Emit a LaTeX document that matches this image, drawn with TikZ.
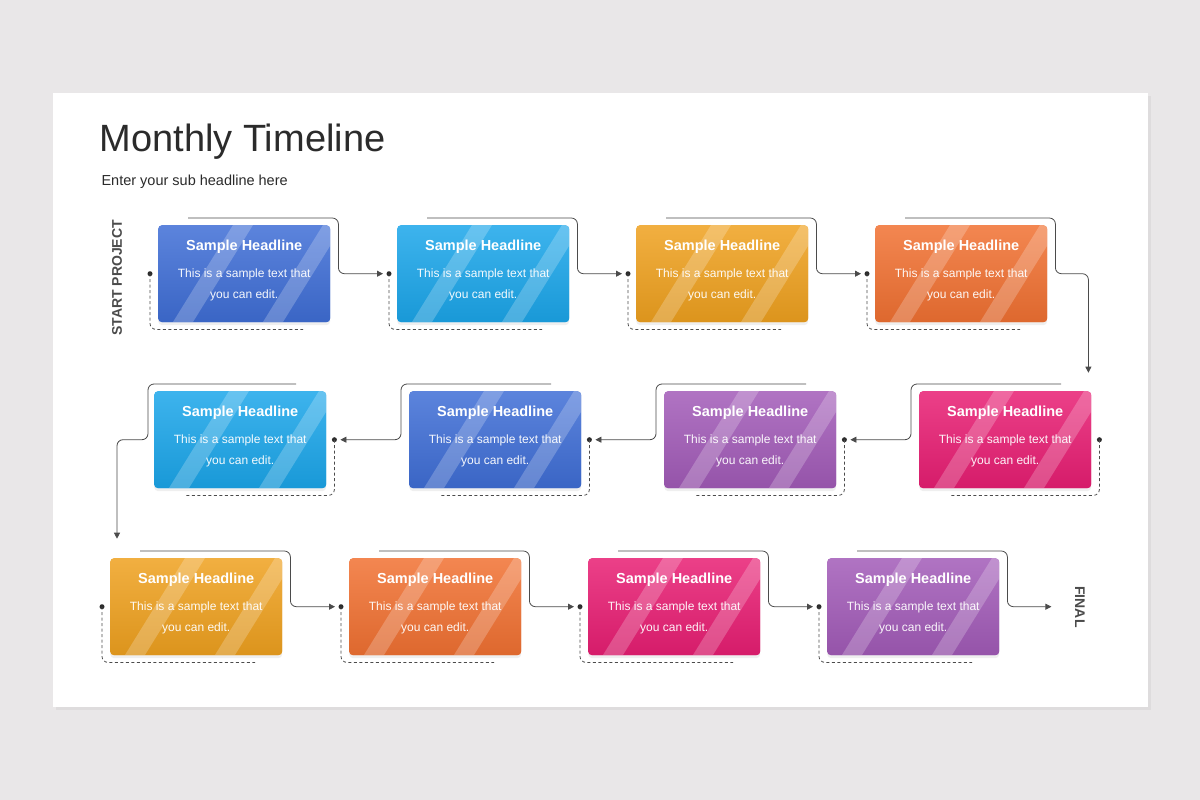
\documentclass[tikz,border=0pt]{standalone}
\usepackage{fontspec}
\setmainfont{Liberation Sans}
\usetikzlibrary{calc,shadows,arrows.meta}
\definecolor{cblue}{HTML}{3F6ED6}
\definecolor{ccyan}{HTML}{1BA6EA}
\definecolor{camber}{HTML}{EFA11F}
\definecolor{corange}{HTML}{F17132}
\definecolor{cpink}{HTML}{E81E73}
\definecolor{cpurple}{HTML}{A25BB8}
\definecolor{ink}{HTML}{2B2B2B}
\definecolor{bggray}{HTML}{E9E7E8}
\tikzset{
  tbox/.style={rounded corners=4pt,minimum width=172pt,minimum height=97pt,inner sep=0pt,
     drop shadow={opacity=0.12,shadow xshift=0pt,shadow yshift=-3pt}},
  conn/.style={draw=ink!85,line width=0.8pt,rounded corners=6pt,-{Triangle[length=6pt,width=6pt]}},
  dashln/.style={draw=ink!85,line width=0.8pt,dash pattern=on 3pt off 2.5pt,rounded corners=6pt},
  dotn/.style={circle,fill=ink,inner sep=0pt,minimum size=5pt},
}
\newcommand\tlbox[4]{% name, x0, y0 (top), color
  \node[tbox,fill=#4,top color=#4!85!white,bottom color=#4!92!black,anchor=north west] (#1) at (#2,#3) {};
  \begin{scope}
    \clip[rounded corners=4pt] (#2,#3) rectangle ++(172,97);
    \fill[white,opacity=0.22] (#2+15,#3+97) -- (#2+35,#3+97) -- (#2+95,#3) -- (#2+75,#3) -- cycle;
    \fill[white,opacity=0.22] (#2+105,#3+97) -- (#2+125,#3+97) -- (#2+185,#3) -- (#2+165,#3) -- cycle;
  \end{scope}
  \node[white,font=\bfseries\fontsize{14.5}{16}\selectfont] at ($(#1.north)+(0,22)$) {Sample Headline};
  \node[white,opacity=0.95,align=center,font=\fontsize{12}{21}\selectfont] at ($(#1.north)+(0,60)$) {This is a sample text that\\you can edit.};
}
\begin{document}
\begin{tikzpicture}[x=1pt,y=-1pt]
\fill[bggray] (0,0) rectangle (1200,800);
\useasboundingbox (0,0) rectangle (1200,800);
\fill[white,drop shadow={opacity=0.1}] (53,93) rectangle (1148,707);
\node[anchor=west,text=ink,font=\fontsize{38}{40}\selectfont] (title) at (96,142) {Monthly Timeline};
\node[anchor=west,text=ink,font=\fontsize{14.5}{16}\selectfont] (sub) at (98,182) {Enter your sub headline here};
\node[rotate=90,text=ink!85,font=\bfseries\fontsize{14}{16}\selectfont] (start) at (117,278) {START PROJECT};
\node[rotate=-90,text=ink!85,font=\bfseries\fontsize{14}{16}\selectfont] (final) at (1080,607) {FINAL};
% row 1
\tlbox{a1}{158}{225}{cblue}
\tlbox{a2}{397}{225}{ccyan}
\tlbox{a3}{636}{225}{camber}
\tlbox{a4}{875}{225}{corange}
% row 2
\tlbox{b1}{154}{391}{ccyan}
\tlbox{b2}{409}{391}{cblue}
\tlbox{b3}{664}{391}{cpurple}
\tlbox{b4}{919}{391}{cpink}
% row 3
\tlbox{c1}{110}{558}{camber}
\tlbox{c2}{349}{558}{corange}
\tlbox{c3}{588}{558}{cpink}
\tlbox{c4}{827}{558}{cpurple}
\foreach \n in {a1,a2,a3,a4,c1,c2,c3,c4}{
  \node[dotn] (d\n) at ($(\n.west)+(-8,0)$) {};
  \draw[dashln] (d\n.center) |- ($(\n.south west)+(145,7)$);
}
\foreach \n in {b1,b2,b3,b4}{
  \node[dotn] (d\n) at ($(\n.east)+(8,0)$) {};
  \draw[dashln] (d\n.center) |- ($(\n.south west)+(30,7)$);
}
\foreach \p/\q in {a1/a2,a2/a3,a3/a4,c1/c2,c2/c3,c3/c4}{
  \draw[conn] ($(\p.north west)+(30,-7)$) -| ($(\p.east)+(8,0)$) -- ($(d\q)+(-6,0)$);
}
\draw[conn] ($(a4.north west)+(30,-7)$) -| ($(a4.east)+(8,0)$) -| ($(a4.east)+(41,99)$);
\foreach \p/\q in {b4/b3,b3/b2,b2/b1}{
  \draw[conn] ($(\p.north west)+(142,-7)$) -| ($(\p.west)+(-8,0)$) -- ($(d\q)+(6,0)$);
}
\draw[conn] ($(b1.north west)+(142,-7)$) -| ($(b1.west)+(-6,0)$) -| ($(b1.west)+(-37,99)$);
\draw[conn] ($(c4.north west)+(30,-7)$) -| ($(c4.east)+(8,0)$) -- ($(c4.east)+(52,0)$);
\end{tikzpicture}
\end{document}
